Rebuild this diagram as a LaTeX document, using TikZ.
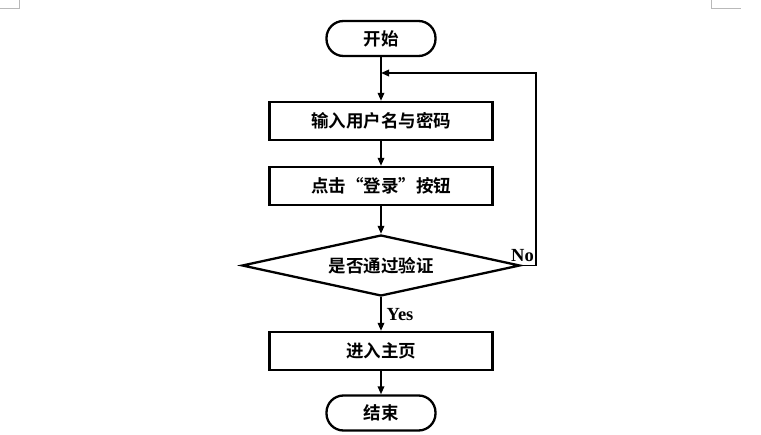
\documentclass[tikz,border=0pt]{standalone}
\usepackage{fontspec}
\newfontfamily\cjk{Noto Sans CJK SC}[BoldFont={* Bold}]
\newfontfamily\latinlbl{Liberation Serif}
\usetikzlibrary{arrows.meta,shapes.geometric}
\begin{document}
\begin{tikzpicture}[x=1pt,y=-1pt,
  every node/.style={font=\cjk\bfseries\fontsize{17.5}{19}\selectfont},
  term/.style={draw,line width=2.3pt,rectangle,rounded corners=17pt,minimum width=109pt,minimum height=35pt,inner sep=0pt},
  proc/.style={draw,line width=2.3pt,rectangle,minimum width=223pt,minimum height=38pt,inner sep=0pt},
  dec/.style={draw,line width=2.3pt,diamond,aspect=4.5,minimum width=278pt,minimum height=61pt,inner sep=0pt},
  conn/.style={line width=1.8pt,-{Triangle[length=8pt,width=6.5pt]}},
  lbl/.style={font=\latinlbl\bfseries\fontsize{18.5}{20}\selectfont,inner sep=0pt},
  cmark/.style={draw=gray!55,line width=0.9pt}]
\useasboundingbox (0,0) rectangle (761,435);
% corner marks
\path[cmark] (19,0) -- (19,8) -- (0,8);
\path[cmark] (711,0) -- (711,8) -- (741,8);
% nodes
\node[term] (start) at (381,38.5) {开始};
\node[proc] (inp) at (381,121) {输入用户名与密码};
\node[proc] (btn) at (381,186) {点击“登录”按钮};
\node[dec] (chk) at (381,265.5) {是否通过验证};
\node[proc] (home) at (381,351) {进入主页};
\node[term] (fin) at (381,413) {结束};
\coordinate (join) at (381,73);
\coordinate (rt) at (536,265.5);
% connectors
\draw[conn] (start) -- (inp);
\draw[conn] (inp) -- (btn);
\draw[conn] (btn) -- (chk.north);
\draw[conn] (chk.south) -- (home);
\node[lbl,anchor=base west] (yes) at (386.5,321) {Yes};
\draw[conn] (home) -- (fin);
\draw[conn] (chk.east) -- (rt) -- (rt |- join) -- (join);
\node[lbl,anchor=base east] (no) at (534,262) {No};
\end{tikzpicture}
\end{document}
